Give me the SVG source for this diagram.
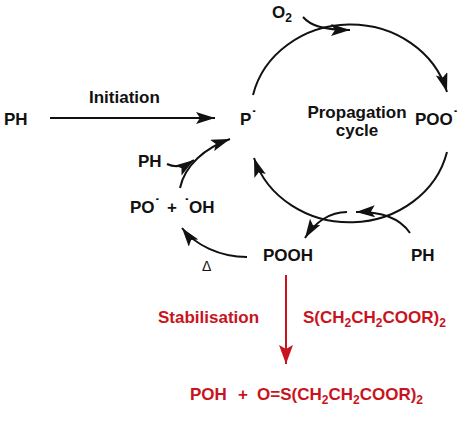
<svg xmlns="http://www.w3.org/2000/svg" width="474" height="426" viewBox="0 0 474 426">
<defs>
<style>
.t{font-family:"Liberation Sans",Arial,sans-serif;font-weight:bold;font-size:17px;fill:#111}
.r{fill:#c8141e}
.sub{font-size:12px}
.ln{fill:none;stroke:#111;stroke-width:2}
.lr{fill:none;stroke:#c8141e;stroke-width:2}
</style>
<marker id="ah" markerWidth="20" markerHeight="12" refX="19" refY="6" orient="auto" markerUnits="userSpaceOnUse" viewBox="0 0 20 12">
<path d="M0,0 L19,6 L0,12 L4,6 z" fill="#111"/>
</marker>
<marker id="ahr" markerWidth="20" markerHeight="14" refX="19" refY="7" orient="auto" markerUnits="userSpaceOnUse" viewBox="0 0 20 14">
<path d="M0,0 L19,7 L0,14 L4,7 z" fill="#c8141e"/>
</marker>
</defs>
<rect width="474" height="426" fill="#fff"/>
<g id="connectors">
<line class="ln" x1="50" y1="118" x2="215" y2="118" marker-end="url(#ah)"/>
<path class="ln" d="M253,95 A100,91 0 0,1 447,92" marker-end="url(#ah)"/>
<path class="ln" d="M447,152 A100,91 0 0,1 254,158" marker-end="url(#ah)"/>
<path class="ln" d="M303,17 C310,25 322,30 350,30" marker-end="url(#ah)"/>
<path class="ln" d="M410,233 C400,218 380,211 356,212" marker-end="url(#ah)"/>
<path class="ln" d="M347,212 C330,212 315,222 305,238" marker-end="url(#ah)"/>
<path class="ln" d="M180,188 C185,165 205,148 230,139" marker-end="url(#ah)"/>
<path class="ln" d="M167,164 C175,168 185,166 194,160" marker-end="url(#ah)"/>
<path class="ln" d="M247,257 C220,257 195,245 182,228" marker-end="url(#ah)"/>
<line class="lr" x1="286" y1="275" x2="286" y2="364" marker-end="url(#ahr)"/>
</g>
<g id="ph-left"><text class="t" x="4" y="125">PH</text></g>
<g id="initiation"><text class="t" x="89" y="103">Initiation</text></g>
<g id="p-radical"><text class="t" x="240" y="125">P<tspan dy="-3">˙</tspan></text></g>
<g id="o2"><text class="t" x="272" y="18">O<tspan class="sub" dy="4">2</tspan></text></g>
<g id="propagation"><text class="t" x="357" y="118" text-anchor="middle">Propagation</text><text class="t" x="357" y="136" text-anchor="middle">cycle</text></g>
<g id="poo-radical"><text class="t" x="415" y="125">POO<tspan dy="-3">˙</tspan></text></g>
<g id="ph-mid"><text class="t" x="138" y="167">PH</text></g>
<g id="po-oh"><text class="t" x="130" y="213">PO<tspan dy="-3">˙</tspan></text><text class="t" x="167" y="213">+</text><text class="t" x="184" y="210">˙</text><text class="t" x="189" y="213">OH</text></g>
<g id="delta"><text x="202" y="271" style="font-family:'Liberation Sans',Arial,sans-serif;font-size:14px;fill:#111">Δ</text></g>
<g id="pooh"><text class="t" x="263" y="261">POOH</text></g>
<g id="ph-right"><text class="t" x="411" y="261">PH</text></g>
<g id="stabilisation"><text class="t r" x="158" y="323">Stabilisation</text></g>
<g id="reagent"><text class="t r" x="303" y="323">S(CH<tspan class="sub" dy="4">2</tspan><tspan dy="-4">CH</tspan><tspan class="sub" dy="4">2</tspan><tspan dy="-4">COOR)</tspan><tspan class="sub" dy="4">2</tspan></text></g>
<g id="products"><text class="t r" x="190" y="400">POH</text><text class="t r" x="238" y="400">+</text><text class="t r" x="257" y="400">O=S(CH<tspan class="sub" dy="4">2</tspan><tspan dy="-4">CH</tspan><tspan class="sub" dy="4">2</tspan><tspan dy="-4">COOR)</tspan><tspan class="sub" dy="4">2</tspan></text></g>
</svg>
